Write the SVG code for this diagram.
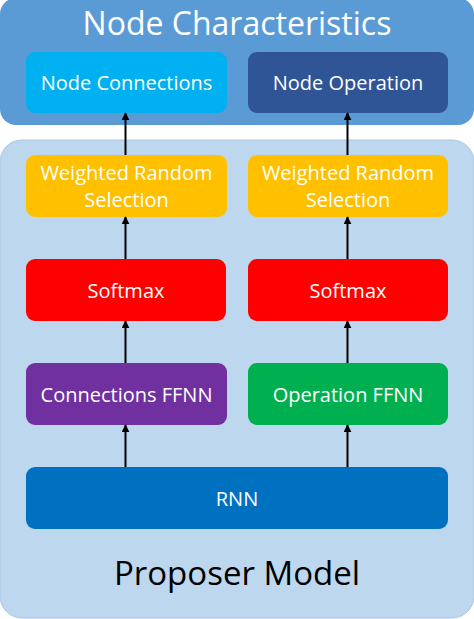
<svg xmlns="http://www.w3.org/2000/svg" width="474" height="619" viewBox="0 0 474 619">
<defs>
<style>
.lbl{font-family:"Open Sans","Noto Sans",sans-serif;font-size:20px;fill:#fff;text-anchor:middle}
.box{stroke:none}
.arr{stroke:#000;stroke-width:2;fill:none;marker-end:url(#ah)}
</style>
<marker id="ah" viewBox="0 0 10 10" refX="9" refY="5" markerWidth="4" markerHeight="4" orient="auto" markerUnits="strokeWidth">
<path d="M0,0 L10,5 L0,10 z" fill="#000"/>
</marker>
</defs>
<g id="proposer-model">
<rect x="0" y="140" width="474" height="478" rx="22" fill="#BDD7EE" stroke="#A9C6E3" stroke-width="1"/>
<text x="237" y="585" style="font-family:'Open Sans','Noto Sans',sans-serif;font-size:33px;fill:#000;text-anchor:middle">Proposer Model</text>
</g>
<g id="node-characteristics">
<rect x="0" y="-2" width="474" height="127" rx="16" fill="#5B9BD5"/>
<text x="237" y="35" style="font-family:'Open Sans','Noto Sans',sans-serif;font-size:32px;fill:#fff;text-anchor:middle">Node Characteristics</text>
</g>
<g id="node-connections">
<rect class="box" x="26" y="52" width="201" height="61" rx="9" fill="#00B0F0"/>
<text class="lbl" x="126.5" y="90">Node Connections</text>
</g>
<g id="node-operation">
<rect class="box" x="248" y="52" width="200" height="61" rx="9" fill="#2F5597"/>
<text class="lbl" x="348" y="90">Node Operation</text>
</g>
<g id="wrs-left">
<rect class="box" x="26" y="155" width="201" height="62" rx="9" fill="#FFC000"/>
<text class="lbl" x="126.5" y="180">Weighted Random</text>
<text class="lbl" x="126.5" y="207">Selection</text>
</g>
<g id="wrs-right">
<rect class="box" x="248" y="155" width="200" height="62" rx="9" fill="#FFC000"/>
<text class="lbl" x="348" y="180">Weighted Random</text>
<text class="lbl" x="348" y="207">Selection</text>
</g>
<g id="softmax-left">
<rect class="box" x="26" y="259" width="200" height="62" rx="9" fill="#FF0000"/>
<text class="lbl" x="126" y="298">Softmax</text>
</g>
<g id="softmax-right">
<rect class="box" x="248" y="259" width="200" height="62" rx="9" fill="#FF0000"/>
<text class="lbl" x="348" y="298">Softmax</text>
</g>
<g id="connections-ffnn">
<rect class="box" x="26" y="363" width="201" height="62" rx="9" fill="#7030A0"/>
<text class="lbl" x="126.5" y="402">Connections FFNN</text>
</g>
<g id="operation-ffnn">
<rect class="box" x="248" y="363" width="200" height="62" rx="9" fill="#00B050"/>
<text class="lbl" x="348" y="402">Operation FFNN</text>
</g>
<g id="rnn">
<rect class="box" x="26" y="467" width="422" height="62" rx="9" fill="#0070C0"/>
<text class="lbl" x="237" y="506">RNN</text>
</g>
<g id="connectors">
<line class="arr" x1="125.5" y1="467" x2="125.5" y2="425"/>
<line class="arr" x1="347.5" y1="467" x2="347.5" y2="425"/>
<line class="arr" x1="125.5" y1="363" x2="125.5" y2="321"/>
<line class="arr" x1="347.5" y1="363" x2="347.5" y2="321"/>
<line class="arr" x1="125.5" y1="259" x2="125.5" y2="217"/>
<line class="arr" x1="347.5" y1="259" x2="347.5" y2="217"/>
<line class="arr" x1="125.5" y1="155" x2="125.5" y2="113"/>
<line class="arr" x1="347.5" y1="155" x2="347.5" y2="113"/>
</g>
</svg>
